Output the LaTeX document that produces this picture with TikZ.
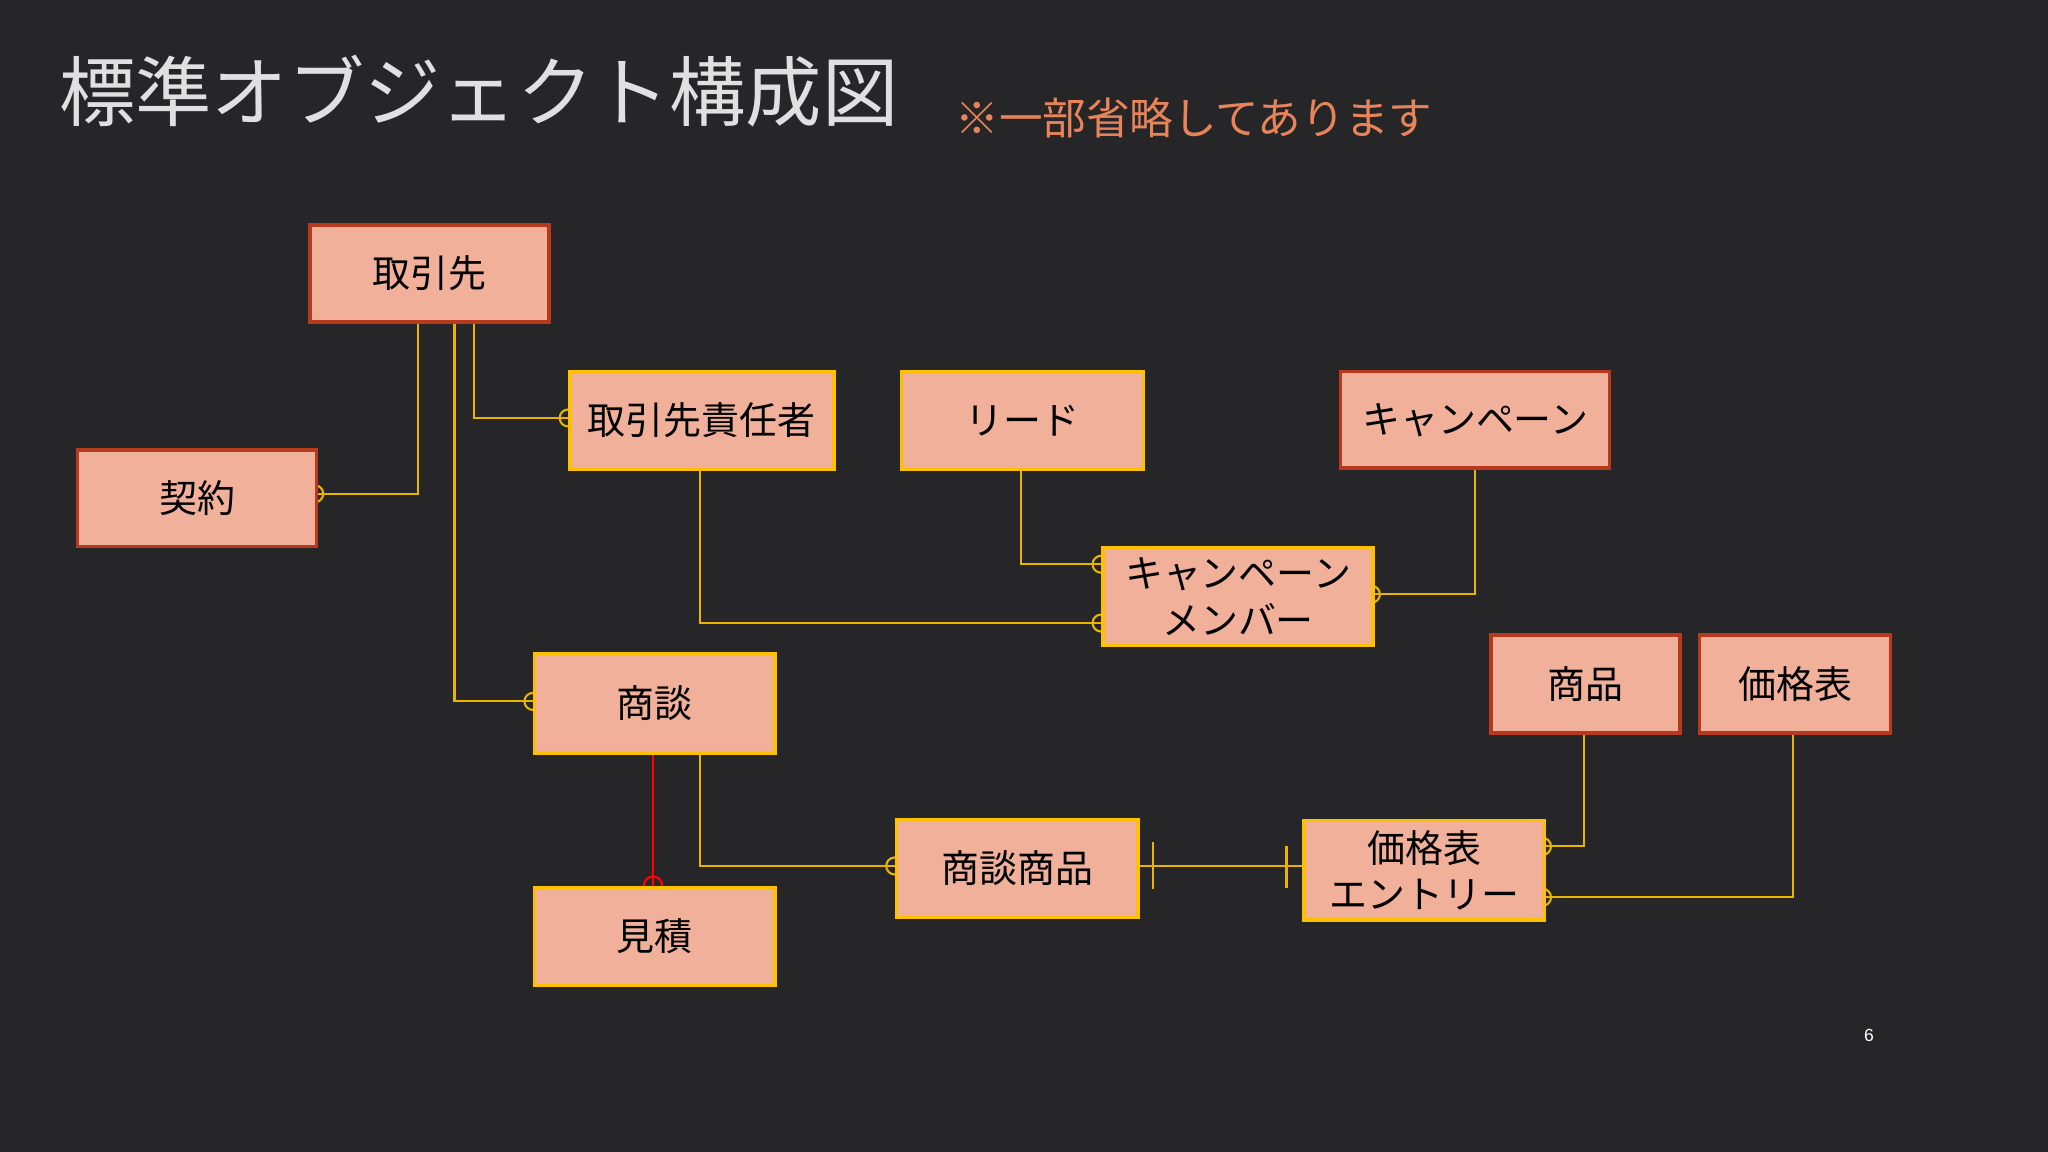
\documentclass[tikz,border=0pt]{standalone}
\usepackage{fontspec}
\newfontfamily\cjk{Noto Sans CJK JP}
\newfontfamily\lsans{Liberation Sans}
\definecolor{bg}{HTML}{262628}
\definecolor{boxfill}{HTML}{F0B09A}
\definecolor{redb}{HTML}{B83A1E}
\definecolor{yelb}{HTML}{FFC000}
\definecolor{lnk}{HTML}{E8B400}
\definecolor{sub}{HTML}{E8845A}
\begin{document}
\begin{tikzpicture}[x=0.013061cm,y=-0.013061cm,
  ent/.style={draw, line width=1pt, fill=boxfill, text=black, font=\cjk\fontsize{10.8}{13.2}\selectfont, align=center, inner sep=0pt, anchor=north west},
  rb/.style={ent, draw=redb},
  yb/.style={ent, draw=yelb},
  sz/.style 2 args={minimum width=#1*0.37162pt, minimum height=#2*0.37162pt},
  lk/.style={draw=lnk, line width=0.6pt},
  zc/.style={draw=lnk, line width=0.6pt, fill=none}]
\fill[bg] (0,0) rectangle (1568,882);
\useasboundingbox (0,0) rectangle (1568,882);
\node[anchor=west, text=white!88!black, font=\cjk\fontsize{21.7}{25}\selectfont] (title) at (36,70) {標準オブジェクト構成図};
\node[anchor=west, text=sub, font=\cjk\fontsize{12.4}{15}\selectfont] (subt) at (722,90) {※一部省略してあります};
\node[text=white, font=\lsans\fontsize{5}{6}\selectfont] (pg) at (1431,793) {6};
% coordinates
\coordinate (a1) at (320,245); \coordinate (a1b) at (320,378); \coordinate (k1) at (241,378);
\coordinate (a2) at (348,245); \coordinate (a2b) at (348,537); \coordinate (s1) at (408,537);
\coordinate (a3) at (363,245); \coordinate (a3b) at (363,320); \coordinate (t1) at (435,320);
\coordinate (t2) at (536,358); \coordinate (t2b) at (536,477); \coordinate (m1) at (843,477);
\coordinate (l1) at (782,358); \coordinate (l1b) at (782,432); \coordinate (m2) at (843,432);
\coordinate (c1) at (1129,357); \coordinate (c1b) at (1129,455); \coordinate (m3) at (1050,455);
\coordinate (s2) at (536,575); \coordinate (s2b) at (536,663); \coordinate (o1) at (685,663);
\coordinate (s3) at (500,575); \coordinate (q1) at (500,678);
\coordinate (o2) at (870,663); \coordinate (p1) at (997,663);
\coordinate (g1) at (1213,560); \coordinate (g1b) at (1213,648); \coordinate (p2) at (1181,648);
\coordinate (h1) at (1373,560); \coordinate (h1b) at (1373,687); \coordinate (p3) at (1181,687);
% connectors
\draw[lk] (a1) -- (a1b) -- (k1);
\draw[lk] (a2) -- (a2b) -- (s1);
\draw[lk] (a3) -- (a3b) -- (t1);
\draw[lk] (t2) -- (t2b) -- (m1);
\draw[lk] (l1) -- (l1b) -- (m2);
\draw[lk] (c1) -- (c1b) -- (m3);
\draw[lk] (s2) -- (s2b) -- (o1);
\draw[red, line width=0.6pt] (s3) -- (q1);
\draw[red, line width=0.6pt] (q1) circle[radius=7*0.37162pt];
\draw[lk] (o2) -- (p1);
\draw[lk] (883,645) -- (883,681);
\draw[lk] (985,648) -- (985,680);
\draw[lk] (g1) -- (g1b) -- (p2);
\draw[lk] (h1) -- (h1b) -- (p3);
\foreach \c in {k1,s1,t1,m1,m2,m3,o1,p2,p3} \draw[zc] (\c) circle[radius=6.5*0.37162pt];
% entities
\node[rb, sz={183}{74}] (tor) at (236,171) {取引先};
\node[rb, sz={183}{74}] (kei) at (58,343) {契約};
\node[yb, sz={202}{75}] (tan) at (435,283) {取引先責任者};
\node[yb, sz={185}{75}] (lead) at (689,283) {リード};
\node[rb, sz={206}{74}] (camp) at (1025,283) {キャンペーン};
\node[yb, sz={207}{75}] (cm) at (843,418) {キャンペーン\\メンバー};
\node[rb, sz={145}{75}] (shohin) at (1140,485) {商品};
\node[rb, sz={146}{75}] (kak) at (1300,485) {価格表};
\node[yb, sz={184}{76}] (sho) at (408,499) {商談};
\node[yb, sz={184}{75}] (mit) at (408,678) {見積};
\node[yb, sz={185}{75}] (ss) at (685,626) {商談商品};
\node[yb, sz={184}{76}] (pbe) at (997,627) {価格表\\エントリー};
\end{tikzpicture}
\end{document}
